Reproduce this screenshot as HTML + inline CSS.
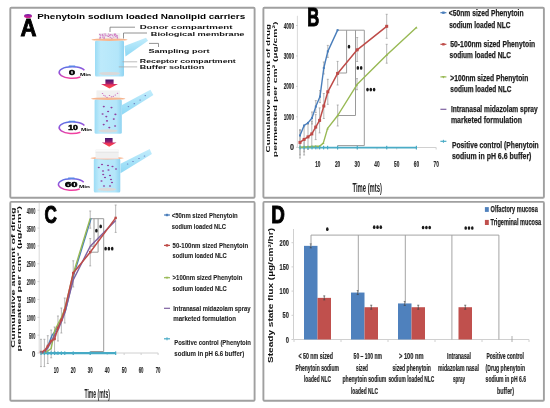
<!DOCTYPE html>
<html><head><meta charset="utf-8"><style>
html,body{margin:0;padding:0;background:#fff;width:550px;height:408px;overflow:hidden}
svg{display:block;filter:blur(0.35px);font-family:"Liberation Sans",sans-serif}
</style></head><body>
<svg width="550" height="408" viewBox="0 0 550 408">
<defs>
<linearGradient id="gEl" x1="0" y1="0" x2="0" y2="1"><stop offset="0" stop-color="#6a1fa8"/><stop offset="1" stop-color="#e5208f"/></linearGradient>
<linearGradient id="gArr" x1="0" y1="0" x2="0" y2="1"><stop offset="0" stop-color="#3a1870"/><stop offset="0.45" stop-color="#9a1f70"/><stop offset="0.6" stop-color="#e8305a"/><stop offset="1" stop-color="#ff5048"/></linearGradient>
<linearGradient id="gTim" x1="0" y1="0" x2="0.3" y2="1"><stop offset="0" stop-color="#4f7ae8"/><stop offset="0.5" stop-color="#9a50d8"/><stop offset="1" stop-color="#f040a0"/></linearGradient>
<linearGradient id="gCyl" x1="0" y1="0" x2="1" y2="0"><stop offset="0" stop-color="#9cdcf5"/><stop offset="0.2" stop-color="#bdeafb"/><stop offset="0.8" stop-color="#b3e6fa"/><stop offset="1" stop-color="#8fd3f1"/></linearGradient>
<linearGradient id="gArm" x1="0" y1="0" x2="0" y2="1"><stop offset="0" stop-color="#c0ecfc"/><stop offset="1" stop-color="#88d6f4"/></linearGradient>
</defs>
<rect width="550" height="408" fill="#fff"/>

<rect x="10.3" y="7.8" width="244.29999999999998" height="189.89999999999998" rx="1" fill="none" stroke="#a0a0a0" stroke-width="1.9"/>
<rect x="263.4" y="7.8" width="280.5" height="189.89999999999998" rx="1" fill="none" stroke="#a0a0a0" stroke-width="1.9"/>
<rect x="10.3" y="201.9" width="244.29999999999998" height="198.79999999999998" rx="1" fill="none" stroke="#a0a0a0" stroke-width="1.9"/>
<rect x="263.4" y="201.9" width="280.5" height="198.79999999999998" rx="1" fill="none" stroke="#a0a0a0" stroke-width="1.9"/>
<ellipse cx="28" cy="16" rx="4" ry="2" fill="url(#gEl)"/>
<text x="20.6" y="35.6" font-size="24" font-weight="bold" fill="#000" text-anchor="start" textLength="16.0" lengthAdjust="spacingAndGlyphs" stroke="#000" stroke-width="0.9">A</text>
<text x="37.2" y="18.7" font-size="8" font-weight="bold" fill="#000" text-anchor="start" textLength="208" lengthAdjust="spacingAndGlyphs" >Phenytoin sodium loaded Nanolipid carriers</text>
<polygon points="124.5,46 146,37.8 148,40.8 125.5,56.5" fill="url(#gArm)" opacity="0.95"/>
<rect x="95" y="40.4" width="29" height="36.1" fill="url(#gCyl)" rx="1.5"/>
<ellipse cx="109.5" cy="73.5" rx="10.5" ry="1.6" fill="#d9d9d9"/>
<rect x="98.75" y="33.1" width="21.5" height="6.100000000000001" fill="#f1f1f1"/>
<ellipse cx="109.5" cy="39.7" rx="18.0" ry="1.3" fill="#f7b58f"/>
<ellipse cx="99.88" cy="34.42" rx="0.75" ry="0.55" fill="#c04ab0" opacity="0.8"/>
<ellipse cx="102.29" cy="34.19" rx="0.75" ry="0.55" fill="#c04ab0" opacity="0.8"/>
<ellipse cx="104.21" cy="33.93" rx="0.75" ry="0.55" fill="#c04ab0" opacity="0.8"/>
<ellipse cx="105.63" cy="33.97" rx="0.75" ry="0.55" fill="#c04ab0" opacity="0.8"/>
<ellipse cx="108.49" cy="34.0" rx="0.75" ry="0.55" fill="#c04ab0" opacity="0.8"/>
<ellipse cx="110.2" cy="34.66" rx="0.75" ry="0.55" fill="#c04ab0" opacity="0.8"/>
<ellipse cx="111.88" cy="34.68" rx="0.75" ry="0.55" fill="#c04ab0" opacity="0.8"/>
<ellipse cx="114.38" cy="34.13" rx="0.75" ry="0.55" fill="#c04ab0" opacity="0.8"/>
<ellipse cx="115.44" cy="34.15" rx="0.75" ry="0.55" fill="#c04ab0" opacity="0.8"/>
<ellipse cx="100.4" cy="35.71" rx="0.75" ry="0.55" fill="#c04ab0" opacity="0.8"/>
<ellipse cx="102.31" cy="35.25" rx="0.75" ry="0.55" fill="#c04ab0" opacity="0.8"/>
<ellipse cx="103.85" cy="35.74" rx="0.75" ry="0.55" fill="#c04ab0" opacity="0.8"/>
<ellipse cx="105.93" cy="35.67" rx="0.75" ry="0.55" fill="#c04ab0" opacity="0.8"/>
<ellipse cx="107.86" cy="35.84" rx="0.75" ry="0.55" fill="#c04ab0" opacity="0.8"/>
<ellipse cx="109.74" cy="35.66" rx="0.75" ry="0.55" fill="#c04ab0" opacity="0.8"/>
<ellipse cx="112.45" cy="35.78" rx="0.75" ry="0.55" fill="#c04ab0" opacity="0.8"/>
<ellipse cx="114.53" cy="35.29" rx="0.75" ry="0.55" fill="#c04ab0" opacity="0.8"/>
<ellipse cx="116.21" cy="35.32" rx="0.75" ry="0.55" fill="#c04ab0" opacity="0.8"/>
<ellipse cx="117.3" cy="35.73" rx="0.75" ry="0.55" fill="#c04ab0" opacity="0.8"/>
<ellipse cx="100.39" cy="37.2" rx="0.75" ry="0.55" fill="#c04ab0" opacity="0.8"/>
<ellipse cx="102.48" cy="36.98" rx="0.75" ry="0.55" fill="#c04ab0" opacity="0.8"/>
<ellipse cx="104.15" cy="37.17" rx="0.75" ry="0.55" fill="#c04ab0" opacity="0.8"/>
<ellipse cx="108.3" cy="36.55" rx="0.75" ry="0.55" fill="#c04ab0" opacity="0.8"/>
<ellipse cx="110.23" cy="37.29" rx="0.75" ry="0.55" fill="#c04ab0" opacity="0.8"/>
<ellipse cx="113.81" cy="37.03" rx="0.75" ry="0.55" fill="#c04ab0" opacity="0.8"/>
<ellipse cx="115.85" cy="36.63" rx="0.75" ry="0.55" fill="#c04ab0" opacity="0.8"/>
<ellipse cx="117.32" cy="37.11" rx="0.75" ry="0.55" fill="#c04ab0" opacity="0.8"/>
<ellipse cx="100.0" cy="38.11" rx="0.75" ry="0.55" fill="#c04ab0" opacity="0.8"/>
<ellipse cx="104.14" cy="38.24" rx="0.75" ry="0.55" fill="#c04ab0" opacity="0.8"/>
<ellipse cx="111.9" cy="38.09" rx="0.75" ry="0.55" fill="#c04ab0" opacity="0.8"/>
<ellipse cx="117.46" cy="37.99" rx="0.75" ry="0.55" fill="#c04ab0" opacity="0.8"/>
<polygon points="122,105 150.4,89.7 153.4,94.9 122,114.7" fill="url(#gArm)" opacity="0.95"/>
<rect x="94.6" y="99.3" width="27.2" height="34.500000000000014" fill="url(#gCyl)" rx="1.5"/>
<ellipse cx="108.19999999999999" cy="130.8" rx="9.6" ry="1.6" fill="#d9d9d9"/>
<rect x="96.44999999999999" y="90.4" width="23.5" height="7.799999999999997" fill="#f1f1f1"/>
<ellipse cx="108.19999999999999" cy="98.7" rx="17.1" ry="1.3" fill="#f7b58f"/>
<ellipse cx="103.8" cy="106.6" rx="1.1" ry="0.8" fill="#8f3fa0"/>
<ellipse cx="111.5" cy="107.6" rx="1.1" ry="0.8" fill="#8f3fa0"/>
<ellipse cx="108.1" cy="111.5" rx="1.1" ry="0.8" fill="#8f3fa0"/>
<ellipse cx="102.6" cy="114" rx="1.1" ry="0.8" fill="#8f3fa0"/>
<ellipse cx="115.4" cy="114.4" rx="1.1" ry="0.8" fill="#8f3fa0"/>
<ellipse cx="106.3" cy="116.6" rx="1.1" ry="0.8" fill="#8f3fa0"/>
<ellipse cx="113.8" cy="119.1" rx="1.1" ry="0.8" fill="#8f3fa0"/>
<ellipse cx="107" cy="120.9" rx="1.1" ry="0.8" fill="#8f3fa0"/>
<ellipse cx="103.7" cy="124.6" rx="1.1" ry="0.8" fill="#8f3fa0"/>
<ellipse cx="115.1" cy="126" rx="1.1" ry="0.8" fill="#8f3fa0"/>
<ellipse cx="109.3" cy="127.6" rx="1.1" ry="0.8" fill="#8f3fa0"/>
<ellipse cx="102.5" cy="93.5" rx="0.75" ry="0.55" fill="#c04ab0" opacity="0.8"/>
<ellipse cx="105.3" cy="96" rx="0.75" ry="0.55" fill="#c04ab0" opacity="0.8"/>
<ellipse cx="107" cy="97.2" rx="0.75" ry="0.55" fill="#c04ab0" opacity="0.8"/>
<ellipse cx="109.5" cy="95.5" rx="0.75" ry="0.55" fill="#c04ab0" opacity="0.8"/>
<ellipse cx="111.5" cy="96.8" rx="0.75" ry="0.55" fill="#c04ab0" opacity="0.8"/>
<ellipse cx="113.3" cy="96.3" rx="0.75" ry="0.55" fill="#c04ab0" opacity="0.8"/>
<ellipse cx="115.3" cy="95" rx="0.75" ry="0.55" fill="#c04ab0" opacity="0.8"/>
<ellipse cx="117.5" cy="93.2" rx="0.75" ry="0.55" fill="#c04ab0" opacity="0.8"/>
<ellipse cx="103.8" cy="95.2" rx="0.75" ry="0.55" fill="#c04ab0" opacity="0.8"/>
<ellipse cx="128.4" cy="106.6" rx="0.8" ry="0.6" fill="#6a7fc0"/>
<ellipse cx="134.3" cy="103.7" rx="0.8" ry="0.6" fill="#6a7fc0"/>
<ellipse cx="140.1" cy="100" rx="0.8" ry="0.6" fill="#6a7fc0"/>
<ellipse cx="145.3" cy="95.6" rx="0.8" ry="0.6" fill="#6a7fc0"/>
<polygon points="120.5,163.7 149.7,149 151.9,154.1 120.5,173.2" fill="url(#gArm)" opacity="0.95"/>
<rect x="93.8" y="158.5" width="26.5" height="33.900000000000006" fill="url(#gCyl)" rx="1.5"/>
<ellipse cx="107.05" cy="189.4" rx="9.25" ry="1.6" fill="#d9d9d9"/>
<rect x="95.64999999999999" y="149.7" width="22.8" height="7.900000000000006" fill="#f1f1f1"/>
<ellipse cx="107.05" cy="158.1" rx="16.75" ry="1.3" fill="#f7b58f"/>
<rect x="95.64999999999999" y="149.7" width="22.8" height="9.100000000000005" fill="#f0f0f0"/>
<rect x="95.64999999999999" y="149.89999999999998" width="22.8" height="1.4" fill="#fafafa"/>
<rect x="95.64999999999999" y="152.29999999999998" width="22.8" height="0.6" fill="#e2e2e2"/>
<rect x="95.64999999999999" y="158.0" width="22.8" height="0.9" fill="#f7d8d0"/>
<ellipse cx="98.8" cy="167.5" rx="1.1" ry="0.8" fill="#8f3fa0"/>
<ellipse cx="102" cy="164.5" rx="1.1" ry="0.8" fill="#8f3fa0"/>
<ellipse cx="108" cy="165.5" rx="1.1" ry="0.8" fill="#8f3fa0"/>
<ellipse cx="112.5" cy="166.5" rx="1.1" ry="0.8" fill="#8f3fa0"/>
<ellipse cx="116" cy="169" rx="1.1" ry="0.8" fill="#8f3fa0"/>
<ellipse cx="103" cy="171" rx="1.1" ry="0.8" fill="#8f3fa0"/>
<ellipse cx="108.5" cy="170" rx="1.1" ry="0.8" fill="#8f3fa0"/>
<ellipse cx="110" cy="175.5" rx="1.1" ry="0.8" fill="#8f3fa0"/>
<ellipse cx="103.2" cy="174.5" rx="1.1" ry="0.8" fill="#8f3fa0"/>
<ellipse cx="105" cy="177.5" rx="1.1" ry="0.8" fill="#8f3fa0"/>
<ellipse cx="111" cy="179.5" rx="1.1" ry="0.8" fill="#8f3fa0"/>
<ellipse cx="101.5" cy="181" rx="1.1" ry="0.8" fill="#8f3fa0"/>
<ellipse cx="112" cy="182.5" rx="1.1" ry="0.8" fill="#8f3fa0"/>
<ellipse cx="104" cy="186" rx="1.1" ry="0.8" fill="#8f3fa0"/>
<ellipse cx="110" cy="186" rx="1.1" ry="0.8" fill="#8f3fa0"/>
<ellipse cx="127.6" cy="164" rx="0.8" ry="0.6" fill="#6a7fc0"/>
<ellipse cx="133" cy="161.5" rx="0.8" ry="0.6" fill="#6a7fc0"/>
<ellipse cx="139" cy="158.5" rx="0.8" ry="0.6" fill="#6a7fc0"/>
<ellipse cx="144.5" cy="156" rx="0.8" ry="0.6" fill="#6a7fc0"/>
<path d="M105.4,79.4 H113.6 V84.08000000000001 H118 L109.5,88.4 L101,84.08000000000001 H105.4 Z" fill="url(#gArr)"/>
<path d="M105,138 H112.6 V142.576 H116.5 L109.2,146.8 L101.9,142.576 H105 Z" fill="url(#gArr)"/>
<line x1="110" y1="27.2" x2="135" y2="27.2" stroke="#777" stroke-width="0.8"/>
<line x1="110" y1="27.2" x2="110" y2="32" stroke="#777" stroke-width="0.8"/>
<line x1="123.5" y1="33" x2="147" y2="33" stroke="#777" stroke-width="0.8"/>
<line x1="123.5" y1="33" x2="123.5" y2="38.5" stroke="#777" stroke-width="0.8"/>
<line x1="149" y1="43.4" x2="158.5" y2="43.4" stroke="#777" stroke-width="0.8"/>
<line x1="158.5" y1="43.4" x2="158.5" y2="47" stroke="#777" stroke-width="0.8"/>
<line x1="122.5" y1="61.8" x2="137.2" y2="61.8" stroke="#aaa" stroke-width="0.8"/>
<line x1="118.8" y1="66.9" x2="137.2" y2="66.9" stroke="#aaa" stroke-width="0.8"/>
<text x="139.8" y="29.3" font-size="5.7" font-weight="bold" fill="#111" text-anchor="start" textLength="92.7" lengthAdjust="spacingAndGlyphs" >Donor compartment</text>
<text x="150.7" y="36.3" font-size="5.7" font-weight="bold" fill="#111" text-anchor="start" textLength="93.8" lengthAdjust="spacingAndGlyphs" >Biological membrane</text>
<text x="148.5" y="52.7" font-size="5.7" font-weight="bold" fill="#111" text-anchor="start" textLength="61.1" lengthAdjust="spacingAndGlyphs" >Sampling port</text>
<text x="139.8" y="63.3" font-size="5.7" font-weight="bold" fill="#111" text-anchor="start" textLength="96" lengthAdjust="spacingAndGlyphs" >Receptor compartment</text>
<text x="139.8" y="69.2" font-size="5.7" font-weight="bold" fill="#111" text-anchor="start" textLength="64.4" lengthAdjust="spacingAndGlyphs" >Buffer solution</text>
<path d="M84.4,70.3 A13.1,5.8 0 1 0 80.4,77.0" fill="none" stroke="url(#gTim)" stroke-width="1.5"/>
<rect x="68.6" y="65.5" width="6.8" height="1.6" rx="0.6" fill="#5a86e8"/>
<text x="69" y="75.1" font-size="6.5" font-weight="bold" fill="#000" text-anchor="start" textLength="6" lengthAdjust="spacingAndGlyphs" stroke="#000" stroke-width="0.5">0</text>
<text x="80" y="75.6" font-size="3.6" font-weight="bold" fill="#000" text-anchor="start" textLength="11" lengthAdjust="spacingAndGlyphs" >Min</text>
<path d="M84.4,125.5 A13.1,5.8 0 1 0 80.4,132.2" fill="none" stroke="url(#gTim)" stroke-width="1.5"/>
<rect x="68.6" y="120.7" width="6.8" height="1.6" rx="0.6" fill="#5a86e8"/>
<text x="68.2" y="130.3" font-size="6.5" font-weight="bold" fill="#000" text-anchor="start" textLength="9.5" lengthAdjust="spacingAndGlyphs" stroke="#000" stroke-width="0.5">10</text>
<text x="81" y="130.6" font-size="3.6" font-weight="bold" fill="#000" text-anchor="start" textLength="11" lengthAdjust="spacingAndGlyphs" >Min</text>
<path d="M83.7,182.3 A13.1,5.8 0 1 0 79.7,189.0" fill="none" stroke="url(#gTim)" stroke-width="1.5"/>
<rect x="67.89999999999999" y="177.5" width="6.8" height="1.6" rx="0.6" fill="#5a86e8"/>
<text x="65" y="187.1" font-size="6.5" font-weight="bold" fill="#000" text-anchor="start" textLength="12.299999999999997" lengthAdjust="spacingAndGlyphs" stroke="#000" stroke-width="0.5">60</text>
<text x="79" y="187.5" font-size="3.6" font-weight="bold" fill="#000" text-anchor="start" textLength="11" lengthAdjust="spacingAndGlyphs" >Min</text>
<text x="307.2" y="26.2" font-size="25" font-weight="bold" fill="#000" text-anchor="start" textLength="12.0" lengthAdjust="spacingAndGlyphs" stroke="#000" stroke-width="1">B</text>
<line x1="297.4" y1="15.8" x2="297.4" y2="147.5" stroke="#d9d9d9" stroke-width="1"/>
<line x1="298" y1="147.5" x2="436.2" y2="147.5" stroke="#d0d0d0" stroke-width="1"/>
<line x1="296" y1="147.3" x2="298" y2="147.3" stroke="#d0d0d0" stroke-width="1"/>
<text x="294" y="147.3" font-size="8.9" font-weight="bold" fill="#2a2a2a" text-anchor="end" dominant-baseline="central" textLength="4" lengthAdjust="spacingAndGlyphs" stroke="#2a2a2a" stroke-width="0.2">0</text>
<line x1="296" y1="116.85000000000001" x2="298" y2="116.85000000000001" stroke="#d0d0d0" stroke-width="1"/>
<text x="294" y="116.85000000000001" font-size="8.9" font-weight="bold" fill="#2a2a2a" text-anchor="end" dominant-baseline="central" textLength="10.3" lengthAdjust="spacingAndGlyphs" stroke="#2a2a2a" stroke-width="0.2">1000</text>
<line x1="296" y1="86.4" x2="298" y2="86.4" stroke="#d0d0d0" stroke-width="1"/>
<text x="294" y="86.4" font-size="8.9" font-weight="bold" fill="#2a2a2a" text-anchor="end" dominant-baseline="central" textLength="10.3" lengthAdjust="spacingAndGlyphs" stroke="#2a2a2a" stroke-width="0.2">2000</text>
<line x1="296" y1="55.95" x2="298" y2="55.95" stroke="#d0d0d0" stroke-width="1"/>
<text x="294" y="55.95" font-size="8.9" font-weight="bold" fill="#2a2a2a" text-anchor="end" dominant-baseline="central" textLength="10.3" lengthAdjust="spacingAndGlyphs" stroke="#2a2a2a" stroke-width="0.2">3000</text>
<line x1="296" y1="25.5" x2="298" y2="25.5" stroke="#d0d0d0" stroke-width="1"/>
<text x="294" y="25.5" font-size="8.9" font-weight="bold" fill="#2a2a2a" text-anchor="end" dominant-baseline="central" textLength="10.3" lengthAdjust="spacingAndGlyphs" stroke="#2a2a2a" stroke-width="0.2">4000</text>
<line x1="317.82000000000005" y1="147.5" x2="317.82000000000005" y2="149.5" stroke="#d0d0d0" stroke-width="1"/>
<text x="317.82000000000005" y="163.8" font-size="9.5" font-weight="bold" fill="#2a2a2a" text-anchor="middle" dominant-baseline="central" textLength="5.3" lengthAdjust="spacingAndGlyphs" stroke="#2a2a2a" stroke-width="0.2">10</text>
<line x1="337.54" y1="147.5" x2="337.54" y2="149.5" stroke="#d0d0d0" stroke-width="1"/>
<text x="337.54" y="163.8" font-size="9.5" font-weight="bold" fill="#2a2a2a" text-anchor="middle" dominant-baseline="central" textLength="5.3" lengthAdjust="spacingAndGlyphs" stroke="#2a2a2a" stroke-width="0.2">20</text>
<line x1="357.26" y1="147.5" x2="357.26" y2="149.5" stroke="#d0d0d0" stroke-width="1"/>
<text x="357.26" y="163.8" font-size="9.5" font-weight="bold" fill="#2a2a2a" text-anchor="middle" dominant-baseline="central" textLength="5.3" lengthAdjust="spacingAndGlyphs" stroke="#2a2a2a" stroke-width="0.2">30</text>
<line x1="376.98" y1="147.5" x2="376.98" y2="149.5" stroke="#d0d0d0" stroke-width="1"/>
<text x="376.98" y="163.8" font-size="9.5" font-weight="bold" fill="#2a2a2a" text-anchor="middle" dominant-baseline="central" textLength="5.3" lengthAdjust="spacingAndGlyphs" stroke="#2a2a2a" stroke-width="0.2">40</text>
<line x1="396.70000000000005" y1="147.5" x2="396.70000000000005" y2="149.5" stroke="#d0d0d0" stroke-width="1"/>
<text x="396.70000000000005" y="163.8" font-size="9.5" font-weight="bold" fill="#2a2a2a" text-anchor="middle" dominant-baseline="central" textLength="5.3" lengthAdjust="spacingAndGlyphs" stroke="#2a2a2a" stroke-width="0.2">50</text>
<line x1="416.42" y1="147.5" x2="416.42" y2="149.5" stroke="#d0d0d0" stroke-width="1"/>
<text x="416.42" y="163.8" font-size="9.5" font-weight="bold" fill="#2a2a2a" text-anchor="middle" dominant-baseline="central" textLength="5.3" lengthAdjust="spacingAndGlyphs" stroke="#2a2a2a" stroke-width="0.2">60</text>
<line x1="436.14" y1="147.5" x2="436.14" y2="149.5" stroke="#d0d0d0" stroke-width="1"/>
<text x="436.14" y="163.8" font-size="9.5" font-weight="bold" fill="#2a2a2a" text-anchor="middle" dominant-baseline="central" textLength="5.3" lengthAdjust="spacingAndGlyphs" stroke="#2a2a2a" stroke-width="0.2">70</text>
<text x="367.2" y="187.6" font-size="12" font-weight="bold" fill="#222" text-anchor="middle" dominant-baseline="central" textLength="29.5" lengthAdjust="spacingAndGlyphs" >Time (mts)</text>
<text transform="translate(267.3,88.2) rotate(-90)" x="0" y="0" font-size="6.1" font-weight="bold" fill="#111" text-anchor="middle" dominant-baseline="central" textLength="128.5" lengthAdjust="spacingAndGlyphs" >Cumulative amount of drug</text>
<text transform="translate(274.7,89.4) rotate(-90)" x="0" y="0" font-size="6.1" font-weight="bold" fill="#111" text-anchor="middle" dominant-baseline="central" textLength="135.5" lengthAdjust="spacingAndGlyphs" >permeated per cm² (µg/cm²)</text>
<line x1="337.6" y1="30.2" x2="364.3" y2="30.2" stroke="#9a9a9a" stroke-width="1"/>
<line x1="346.6" y1="30.2" x2="346.6" y2="73" stroke="#9a9a9a" stroke-width="1"/>
<line x1="337.6" y1="73" x2="346.6" y2="73" stroke="#9a9a9a" stroke-width="1"/>
<line x1="355.5" y1="30.2" x2="355.5" y2="115.5" stroke="#9a9a9a" stroke-width="1"/>
<line x1="337.7" y1="115.5" x2="355.5" y2="115.5" stroke="#9a9a9a" stroke-width="1"/>
<line x1="364.3" y1="30.2" x2="364.3" y2="145.6" stroke="#9a9a9a" stroke-width="1"/>
<line x1="337.4" y1="145.6" x2="364.3" y2="145.6" stroke="#9a9a9a" stroke-width="1"/>
<ellipse cx="349.00" cy="46.7" rx="1.3" ry="1.85" fill="#1a1a1a"/>
<ellipse cx="357.85" cy="67.9" rx="1.3" ry="1.85" fill="#1a1a1a"/>
<ellipse cx="361.15" cy="67.9" rx="1.3" ry="1.85" fill="#1a1a1a"/>
<ellipse cx="367.50" cy="89.6" rx="1.3" ry="1.85" fill="#1a1a1a"/>
<ellipse cx="370.80" cy="89.6" rx="1.3" ry="1.85" fill="#1a1a1a"/>
<ellipse cx="374.10" cy="89.6" rx="1.3" ry="1.85" fill="#1a1a1a"/>
<line x1="300" y1="129.9" x2="300" y2="154.9" stroke="#9a9a9a" stroke-width="0.7"/>
<line x1="299" y1="129.9" x2="301" y2="129.9" stroke="#9a9a9a" stroke-width="0.7"/>
<line x1="299" y1="154.9" x2="301" y2="154.9" stroke="#9a9a9a" stroke-width="0.7"/>
<line x1="304.1" y1="126.9" x2="304.1" y2="151.9" stroke="#9a9a9a" stroke-width="0.7"/>
<line x1="303.1" y1="126.9" x2="305.1" y2="126.9" stroke="#9a9a9a" stroke-width="0.7"/>
<line x1="303.1" y1="151.9" x2="305.1" y2="151.9" stroke="#9a9a9a" stroke-width="0.7"/>
<line x1="308" y1="124.4" x2="308" y2="149.4" stroke="#9a9a9a" stroke-width="0.7"/>
<line x1="307" y1="124.4" x2="309" y2="124.4" stroke="#9a9a9a" stroke-width="0.7"/>
<line x1="307" y1="149.4" x2="309" y2="149.4" stroke="#9a9a9a" stroke-width="0.7"/>
<line x1="311.8" y1="121.4" x2="311.8" y2="146.4" stroke="#9a9a9a" stroke-width="0.7"/>
<line x1="310.8" y1="121.4" x2="312.8" y2="121.4" stroke="#9a9a9a" stroke-width="0.7"/>
<line x1="310.8" y1="146.4" x2="312.8" y2="146.4" stroke="#9a9a9a" stroke-width="0.7"/>
<line x1="315.7" y1="114.6" x2="315.7" y2="139.6" stroke="#9a9a9a" stroke-width="0.7"/>
<line x1="314.7" y1="114.6" x2="316.7" y2="114.6" stroke="#9a9a9a" stroke-width="0.7"/>
<line x1="314.7" y1="139.6" x2="316.7" y2="139.6" stroke="#9a9a9a" stroke-width="0.7"/>
<line x1="319.6" y1="107.9" x2="319.6" y2="132.9" stroke="#9a9a9a" stroke-width="0.7"/>
<line x1="318.6" y1="107.9" x2="320.6" y2="107.9" stroke="#9a9a9a" stroke-width="0.7"/>
<line x1="318.6" y1="132.9" x2="320.6" y2="132.9" stroke="#9a9a9a" stroke-width="0.7"/>
<line x1="323.8" y1="93.5" x2="323.8" y2="118.5" stroke="#9a9a9a" stroke-width="0.7"/>
<line x1="322.8" y1="93.5" x2="324.8" y2="93.5" stroke="#9a9a9a" stroke-width="0.7"/>
<line x1="322.8" y1="118.5" x2="324.8" y2="118.5" stroke="#9a9a9a" stroke-width="0.7"/>
<line x1="327.8" y1="79.3" x2="327.8" y2="104.3" stroke="#9a9a9a" stroke-width="0.7"/>
<line x1="326.8" y1="79.3" x2="328.8" y2="79.3" stroke="#9a9a9a" stroke-width="0.7"/>
<line x1="326.8" y1="104.3" x2="328.8" y2="104.3" stroke="#9a9a9a" stroke-width="0.7"/>
<line x1="312" y1="112" x2="312" y2="124" stroke="#9a9a9a" stroke-width="0.7"/>
<line x1="311" y1="112" x2="313" y2="112" stroke="#9a9a9a" stroke-width="0.7"/>
<line x1="311" y1="124" x2="313" y2="124" stroke="#9a9a9a" stroke-width="0.7"/>
<line x1="315.8" y1="100.6" x2="315.8" y2="112.6" stroke="#9a9a9a" stroke-width="0.7"/>
<line x1="314.8" y1="100.6" x2="316.8" y2="100.6" stroke="#9a9a9a" stroke-width="0.7"/>
<line x1="314.8" y1="112.6" x2="316.8" y2="112.6" stroke="#9a9a9a" stroke-width="0.7"/>
<line x1="320" y1="90.6" x2="320" y2="102.6" stroke="#9a9a9a" stroke-width="0.7"/>
<line x1="319" y1="90.6" x2="321" y2="90.6" stroke="#9a9a9a" stroke-width="0.7"/>
<line x1="319" y1="102.6" x2="321" y2="102.6" stroke="#9a9a9a" stroke-width="0.7"/>
<line x1="323.8" y1="62" x2="323.8" y2="74" stroke="#9a9a9a" stroke-width="0.7"/>
<line x1="322.8" y1="62" x2="324.8" y2="62" stroke="#9a9a9a" stroke-width="0.7"/>
<line x1="322.8" y1="74" x2="324.8" y2="74" stroke="#9a9a9a" stroke-width="0.7"/>
<line x1="327.8" y1="45.4" x2="327.8" y2="57.4" stroke="#9a9a9a" stroke-width="0.7"/>
<line x1="326.8" y1="45.4" x2="328.8" y2="45.4" stroke="#9a9a9a" stroke-width="0.7"/>
<line x1="326.8" y1="57.4" x2="328.8" y2="57.4" stroke="#9a9a9a" stroke-width="0.7"/>
<line x1="386.7" y1="14.3" x2="386.7" y2="38.3" stroke="#9a9a9a" stroke-width="0.7"/>
<line x1="385.7" y1="14.3" x2="387.7" y2="14.3" stroke="#9a9a9a" stroke-width="0.7"/>
<line x1="385.7" y1="38.3" x2="387.7" y2="38.3" stroke="#9a9a9a" stroke-width="0.7"/>
<line x1="357.2" y1="37.5" x2="357.2" y2="61.5" stroke="#9a9a9a" stroke-width="0.7"/>
<line x1="356.2" y1="37.5" x2="358.2" y2="37.5" stroke="#9a9a9a" stroke-width="0.7"/>
<line x1="356.2" y1="61.5" x2="358.2" y2="61.5" stroke="#9a9a9a" stroke-width="0.7"/>
<line x1="337.6" y1="61.4" x2="337.6" y2="85" stroke="#9a9a9a" stroke-width="0.7"/>
<line x1="336.6" y1="61.4" x2="338.6" y2="61.4" stroke="#9a9a9a" stroke-width="0.7"/>
<line x1="336.6" y1="85" x2="338.6" y2="85" stroke="#9a9a9a" stroke-width="0.7"/>
<line x1="386.7" y1="44.3" x2="386.7" y2="63.2" stroke="#9a9a9a" stroke-width="0.7"/>
<line x1="385.7" y1="44.3" x2="387.7" y2="44.3" stroke="#9a9a9a" stroke-width="0.7"/>
<line x1="385.7" y1="63.2" x2="387.7" y2="63.2" stroke="#9a9a9a" stroke-width="0.7"/>
<line x1="357" y1="78.6" x2="357" y2="89.7" stroke="#9a9a9a" stroke-width="0.7"/>
<line x1="356" y1="78.6" x2="358" y2="78.6" stroke="#9a9a9a" stroke-width="0.7"/>
<line x1="356" y1="89.7" x2="358" y2="89.7" stroke="#9a9a9a" stroke-width="0.7"/>
<line x1="337.7" y1="105" x2="337.7" y2="126" stroke="#9a9a9a" stroke-width="0.7"/>
<line x1="336.7" y1="105" x2="338.7" y2="105" stroke="#9a9a9a" stroke-width="0.7"/>
<line x1="336.7" y1="126" x2="338.7" y2="126" stroke="#9a9a9a" stroke-width="0.7"/>
<line x1="300" y1="130" x2="300" y2="158" stroke="#9a9a9a" stroke-width="0.7"/>
<line x1="299" y1="130" x2="301" y2="130" stroke="#9a9a9a" stroke-width="0.7"/>
<line x1="299" y1="158" x2="301" y2="158" stroke="#9a9a9a" stroke-width="0.7"/>
<line x1="304.1" y1="140" x2="304.1" y2="155" stroke="#9a9a9a" stroke-width="0.7"/>
<line x1="303.1" y1="140" x2="305.1" y2="140" stroke="#9a9a9a" stroke-width="0.7"/>
<line x1="303.1" y1="155" x2="305.1" y2="155" stroke="#9a9a9a" stroke-width="0.7"/>
<polyline points="300,147.6 304.1,147.6 308,147.6 312,147.6 315.8,147.6 319.6,147.6 323.6,147.6 327.6,147.6 337.6,147.6 357.3,147.6 386.7,147.6 416.4,147.6" fill="none" stroke="#4bacc6" stroke-width="1.9" stroke-linejoin="round"/>
<polyline points="300,147.3 304.1,147 308,146.7 312,146.5 315.7,146.3 319.6,146.3 323.3,143.1 327.6,128.4 337.7,115.5 357,84.6 386.7,55 416.4,27.5" fill="none" stroke="#98b954" stroke-width="1.4" stroke-linejoin="round"/>
<polyline points="300,142.4 304.1,139.4 308,136.9 311.8,133.9 315.7,127.1 319.6,120.4 323.8,106 327.8,91.8 337.6,73.4 357.2,49.8 386.7,26.3" fill="none" stroke="#be4b48" stroke-width="1.5" stroke-linejoin="round"/>
<polyline points="300,135.5 304.1,125.5 308,122.9 312,118 315.8,106.6 320,96.6 323.8,68 327.8,51.4 337.6,30.1" fill="none" stroke="#4a7ebb" stroke-width="1.4" stroke-linejoin="round"/>
<rect x="298.5" y="140.9" width="3" height="3" fill="#be4b48"/>
<rect x="302.6" y="137.9" width="3" height="3" fill="#be4b48"/>
<rect x="306.5" y="135.4" width="3" height="3" fill="#be4b48"/>
<rect x="310.3" y="132.4" width="3" height="3" fill="#be4b48"/>
<rect x="314.2" y="125.6" width="3" height="3" fill="#be4b48"/>
<rect x="318.1" y="118.9" width="3" height="3" fill="#be4b48"/>
<rect x="322.3" y="104.5" width="3" height="3" fill="#be4b48"/>
<rect x="326.3" y="90.3" width="3" height="3" fill="#be4b48"/>
<rect x="336.1" y="71.9" width="3" height="3" fill="#be4b48"/>
<rect x="355.7" y="48.3" width="3" height="3" fill="#be4b48"/>
<rect x="385.2" y="24.8" width="3" height="3" fill="#be4b48"/>
<rect x="299" y="134.5" width="2" height="2" fill="#4a7ebb"/>
<rect x="303.1" y="124.5" width="2" height="2" fill="#4a7ebb"/>
<rect x="307" y="121.9" width="2" height="2" fill="#4a7ebb"/>
<rect x="311" y="117" width="2" height="2" fill="#4a7ebb"/>
<rect x="314.8" y="105.6" width="2" height="2" fill="#4a7ebb"/>
<rect x="319" y="95.6" width="2" height="2" fill="#4a7ebb"/>
<rect x="322.8" y="67" width="2" height="2" fill="#4a7ebb"/>
<rect x="326.8" y="50.4" width="2" height="2" fill="#4a7ebb"/>
<rect x="336.6" y="29.1" width="2" height="2" fill="#4a7ebb"/>
<polygon points="298.8,148.3 301.2,148.3 300,146.10000000000002" fill="#98b954"/>
<polygon points="302.90000000000003,148 305.3,148 304.1,145.8" fill="#98b954"/>
<polygon points="306.8,147.7 309.2,147.7 308,145.5" fill="#98b954"/>
<polygon points="310.8,147.5 313.2,147.5 312,145.3" fill="#98b954"/>
<polygon points="314.5,147.3 316.9,147.3 315.7,145.10000000000002" fill="#98b954"/>
<polygon points="318.40000000000003,147.3 320.8,147.3 319.6,145.10000000000002" fill="#98b954"/>
<polygon points="322.1,144.1 324.5,144.1 323.3,141.9" fill="#98b954"/>
<polygon points="326.40000000000003,129.4 328.8,129.4 327.6,127.2" fill="#98b954"/>
<polygon points="336.5,116.5 338.9,116.5 337.7,114.3" fill="#98b954"/>
<polygon points="355.8,85.6 358.2,85.6 357,83.39999999999999" fill="#98b954"/>
<polygon points="385.5,56 387.9,56 386.7,53.8" fill="#98b954"/>
<polygon points="415.2,28.5 417.59999999999997,28.5 416.4,26.3" fill="#98b954"/>
<rect x="299.4" y="145.79999999999998" width="1.2" height="3.6" fill="#46aac5"/>
<rect x="303.5" y="145.79999999999998" width="1.2" height="3.6" fill="#46aac5"/>
<rect x="307.4" y="145.79999999999998" width="1.2" height="3.6" fill="#46aac5"/>
<rect x="311.4" y="145.79999999999998" width="1.2" height="3.6" fill="#46aac5"/>
<rect x="315.2" y="145.79999999999998" width="1.2" height="3.6" fill="#46aac5"/>
<rect x="319.0" y="145.79999999999998" width="1.2" height="3.6" fill="#46aac5"/>
<rect x="323.0" y="145.79999999999998" width="1.2" height="3.6" fill="#46aac5"/>
<rect x="327.0" y="145.79999999999998" width="1.2" height="3.6" fill="#46aac5"/>
<rect x="337.0" y="145.79999999999998" width="1.2" height="3.6" fill="#46aac5"/>
<rect x="356.7" y="145.79999999999998" width="1.2" height="3.6" fill="#46aac5"/>
<rect x="386.09999999999997" y="145.79999999999998" width="1.2" height="3.6" fill="#46aac5"/>
<rect x="415.79999999999995" y="145.79999999999998" width="1.2" height="3.6" fill="#46aac5"/>
<line x1="440.4" y1="12.7" x2="446.4" y2="12.7" stroke="#4a7ebb" stroke-width="1.2"/>
<rect x="442.2" y="11.5" width="2.4" height="2.4" fill="#4a7ebb"/>
<text x="448.8" y="13.1" font-size="8.3" font-weight="bold" fill="#1e1e1e" text-anchor="start" dominant-baseline="central" textLength="74.7" lengthAdjust="spacingAndGlyphs" stroke="#1e1e1e" stroke-width="0.25">&lt;50nm sized Phenytoin</text>
<text x="449.2" y="24.5" font-size="8.3" font-weight="bold" fill="#1e1e1e" text-anchor="start" dominant-baseline="central" textLength="61.3" lengthAdjust="spacingAndGlyphs" stroke="#1e1e1e" stroke-width="0.25">sodium loaded NLC</text>
<line x1="440.4" y1="44.3" x2="446.4" y2="44.3" stroke="#be4b48" stroke-width="1.2"/>
<rect x="442.2" y="43.099999999999994" width="2.4" height="2.4" fill="#be4b48"/>
<text x="450.3" y="44.0" font-size="8.3" font-weight="bold" fill="#1e1e1e" text-anchor="start" dominant-baseline="central" textLength="84.9" lengthAdjust="spacingAndGlyphs" stroke="#1e1e1e" stroke-width="0.25">50-100nm sized Phenytoin</text>
<text x="449.6" y="54.8" font-size="8.3" font-weight="bold" fill="#1e1e1e" text-anchor="start" dominant-baseline="central" textLength="61.5" lengthAdjust="spacingAndGlyphs" stroke="#1e1e1e" stroke-width="0.25">sodium loaded NLC</text>
<line x1="440.4" y1="76.9" x2="446.4" y2="76.9" stroke="#98b954" stroke-width="1.2"/>
<polygon points="441.9,75.9 444.9,75.9 443.4,78.4" fill="#98b954"/>
<text x="450.3" y="77.6" font-size="8.3" font-weight="bold" fill="#1e1e1e" text-anchor="start" dominant-baseline="central" textLength="78" lengthAdjust="spacingAndGlyphs" stroke="#1e1e1e" stroke-width="0.25">&gt;100nm sized Phenytoin</text>
<text x="450.3" y="89.1" font-size="8.3" font-weight="bold" fill="#1e1e1e" text-anchor="start" dominant-baseline="central" textLength="61.2" lengthAdjust="spacingAndGlyphs" stroke="#1e1e1e" stroke-width="0.25">sodium loaded NLC</text>
<line x1="440.4" y1="109.3" x2="446.4" y2="109.3" stroke="#7d60a0" stroke-width="1.2"/>
<text x="450.9" y="109.0" font-size="8.3" font-weight="bold" fill="#1e1e1e" text-anchor="start" dominant-baseline="central" textLength="86.8" lengthAdjust="spacingAndGlyphs" stroke="#1e1e1e" stroke-width="0.25">Intranasal midazolam spray</text>
<text x="450.9" y="120.0" font-size="8.3" font-weight="bold" fill="#1e1e1e" text-anchor="start" dominant-baseline="central" textLength="71.1" lengthAdjust="spacingAndGlyphs" stroke="#1e1e1e" stroke-width="0.25">marketed formulation</text>
<line x1="440.4" y1="141.3" x2="446.4" y2="141.3" stroke="#46aac5" stroke-width="1.2"/>
<rect x="442.9" y="139.8" width="1" height="3" fill="#46aac5"/>
<text x="452" y="144.9" font-size="8.3" font-weight="bold" fill="#1e1e1e" text-anchor="start" dominant-baseline="central" textLength="86.7" lengthAdjust="spacingAndGlyphs" stroke="#1e1e1e" stroke-width="0.25">Positive control (Phenytoin</text>
<text x="452" y="156.0" font-size="8.3" font-weight="bold" fill="#1e1e1e" text-anchor="start" dominant-baseline="central" textLength="79.4" lengthAdjust="spacingAndGlyphs" stroke="#1e1e1e" stroke-width="0.25">sodium in pH 6.6 buffer)</text>
<text x="44.4" y="223.2" font-size="24.5" font-weight="bold" fill="#000" text-anchor="start" textLength="12.4" lengthAdjust="spacingAndGlyphs" stroke="#000" stroke-width="1">C</text>
<line x1="39.2" y1="203" x2="39.2" y2="353" stroke="#d9d9d9" stroke-width="1"/>
<line x1="39.5" y1="353" x2="158.2" y2="353" stroke="#d0d0d0" stroke-width="1"/>
<line x1="37.5" y1="353.0" x2="39.5" y2="353.0" stroke="#d0d0d0" stroke-width="1"/>
<text x="35.3" y="353.0" font-size="9.8" font-weight="bold" fill="#2a2a2a" text-anchor="end" dominant-baseline="central" textLength="3.3" lengthAdjust="spacingAndGlyphs" stroke="#2a2a2a" stroke-width="0.2">0</text>
<line x1="37.5" y1="335.15" x2="39.5" y2="335.15" stroke="#d0d0d0" stroke-width="1"/>
<text x="35.3" y="335.15" font-size="9.8" font-weight="bold" fill="#2a2a2a" text-anchor="end" dominant-baseline="central" textLength="6.4" lengthAdjust="spacingAndGlyphs" stroke="#2a2a2a" stroke-width="0.2">500</text>
<line x1="37.5" y1="317.3" x2="39.5" y2="317.3" stroke="#d0d0d0" stroke-width="1"/>
<text x="35.3" y="317.3" font-size="9.8" font-weight="bold" fill="#2a2a2a" text-anchor="end" dominant-baseline="central" textLength="8.6" lengthAdjust="spacingAndGlyphs" stroke="#2a2a2a" stroke-width="0.2">1000</text>
<line x1="37.5" y1="299.45" x2="39.5" y2="299.45" stroke="#d0d0d0" stroke-width="1"/>
<text x="35.3" y="299.45" font-size="9.8" font-weight="bold" fill="#2a2a2a" text-anchor="end" dominant-baseline="central" textLength="8.6" lengthAdjust="spacingAndGlyphs" stroke="#2a2a2a" stroke-width="0.2">1500</text>
<line x1="37.5" y1="281.6" x2="39.5" y2="281.6" stroke="#d0d0d0" stroke-width="1"/>
<text x="35.3" y="281.6" font-size="9.8" font-weight="bold" fill="#2a2a2a" text-anchor="end" dominant-baseline="central" textLength="8.6" lengthAdjust="spacingAndGlyphs" stroke="#2a2a2a" stroke-width="0.2">2000</text>
<line x1="37.5" y1="263.75" x2="39.5" y2="263.75" stroke="#d0d0d0" stroke-width="1"/>
<text x="35.3" y="263.75" font-size="9.8" font-weight="bold" fill="#2a2a2a" text-anchor="end" dominant-baseline="central" textLength="8.6" lengthAdjust="spacingAndGlyphs" stroke="#2a2a2a" stroke-width="0.2">2500</text>
<line x1="37.5" y1="245.89999999999998" x2="39.5" y2="245.89999999999998" stroke="#d0d0d0" stroke-width="1"/>
<text x="35.3" y="245.89999999999998" font-size="9.8" font-weight="bold" fill="#2a2a2a" text-anchor="end" dominant-baseline="central" textLength="8.6" lengthAdjust="spacingAndGlyphs" stroke="#2a2a2a" stroke-width="0.2">3000</text>
<line x1="37.5" y1="228.05" x2="39.5" y2="228.05" stroke="#d0d0d0" stroke-width="1"/>
<text x="35.3" y="228.05" font-size="9.8" font-weight="bold" fill="#2a2a2a" text-anchor="end" dominant-baseline="central" textLength="8.6" lengthAdjust="spacingAndGlyphs" stroke="#2a2a2a" stroke-width="0.2">3500</text>
<line x1="37.5" y1="210.2" x2="39.5" y2="210.2" stroke="#d0d0d0" stroke-width="1"/>
<text x="35.3" y="210.2" font-size="9.8" font-weight="bold" fill="#2a2a2a" text-anchor="end" dominant-baseline="central" textLength="8.6" lengthAdjust="spacingAndGlyphs" stroke="#2a2a2a" stroke-width="0.2">4000</text>
<line x1="56.269999999999996" y1="353" x2="56.269999999999996" y2="355" stroke="#d0d0d0" stroke-width="1"/>
<text x="56.269999999999996" y="369.9" font-size="9.5" font-weight="bold" fill="#2a2a2a" text-anchor="middle" dominant-baseline="central" textLength="4.8" lengthAdjust="spacingAndGlyphs" stroke="#2a2a2a" stroke-width="0.2">10</text>
<line x1="73.24" y1="353" x2="73.24" y2="355" stroke="#d0d0d0" stroke-width="1"/>
<text x="73.24" y="369.9" font-size="9.5" font-weight="bold" fill="#2a2a2a" text-anchor="middle" dominant-baseline="central" textLength="4.8" lengthAdjust="spacingAndGlyphs" stroke="#2a2a2a" stroke-width="0.2">20</text>
<line x1="90.21000000000001" y1="353" x2="90.21000000000001" y2="355" stroke="#d0d0d0" stroke-width="1"/>
<text x="90.21000000000001" y="369.9" font-size="9.5" font-weight="bold" fill="#2a2a2a" text-anchor="middle" dominant-baseline="central" textLength="4.8" lengthAdjust="spacingAndGlyphs" stroke="#2a2a2a" stroke-width="0.2">30</text>
<line x1="107.17999999999999" y1="353" x2="107.17999999999999" y2="355" stroke="#d0d0d0" stroke-width="1"/>
<text x="107.17999999999999" y="369.9" font-size="9.5" font-weight="bold" fill="#2a2a2a" text-anchor="middle" dominant-baseline="central" textLength="4.8" lengthAdjust="spacingAndGlyphs" stroke="#2a2a2a" stroke-width="0.2">40</text>
<line x1="124.15" y1="353" x2="124.15" y2="355" stroke="#d0d0d0" stroke-width="1"/>
<text x="124.15" y="369.9" font-size="9.5" font-weight="bold" fill="#2a2a2a" text-anchor="middle" dominant-baseline="central" textLength="4.8" lengthAdjust="spacingAndGlyphs" stroke="#2a2a2a" stroke-width="0.2">50</text>
<line x1="141.12" y1="353" x2="141.12" y2="355" stroke="#d0d0d0" stroke-width="1"/>
<text x="141.12" y="369.9" font-size="9.5" font-weight="bold" fill="#2a2a2a" text-anchor="middle" dominant-baseline="central" textLength="4.8" lengthAdjust="spacingAndGlyphs" stroke="#2a2a2a" stroke-width="0.2">60</text>
<line x1="158.09" y1="353" x2="158.09" y2="355" stroke="#d0d0d0" stroke-width="1"/>
<text x="158.09" y="369.9" font-size="9.5" font-weight="bold" fill="#2a2a2a" text-anchor="middle" dominant-baseline="central" textLength="4.8" lengthAdjust="spacingAndGlyphs" stroke="#2a2a2a" stroke-width="0.2">70</text>
<text x="97.2" y="393.4" font-size="13" font-weight="bold" fill="#222" text-anchor="middle" dominant-baseline="central" textLength="25.6" lengthAdjust="spacingAndGlyphs" >Time (mts)</text>
<text transform="translate(12.9,277.5) rotate(-90)" x="0" y="0" font-size="5.3" font-weight="bold" fill="#111" text-anchor="middle" dominant-baseline="central" textLength="140.5" lengthAdjust="spacingAndGlyphs" >Cumulative amount of drug</text>
<text transform="translate(18.8,278.8) rotate(-90)" x="0" y="0" font-size="5.3" font-weight="bold" fill="#111" text-anchor="middle" dominant-baseline="central" textLength="145.5" lengthAdjust="spacingAndGlyphs" >permeated per cm² (µg/cm²)</text>
<line x1="90.1" y1="218.7" x2="103.7" y2="218.7" stroke="#9a9a9a" stroke-width="1"/>
<line x1="103.7" y1="218.7" x2="103.7" y2="351.5" stroke="#9a9a9a" stroke-width="1"/>
<line x1="90.3" y1="351.5" x2="103.7" y2="351.5" stroke="#9a9a9a" stroke-width="1"/>
<line x1="94" y1="218.7" x2="94" y2="246.2" stroke="#9a9a9a" stroke-width="1"/>
<line x1="90.1" y1="246.2" x2="94" y2="246.2" stroke="#9a9a9a" stroke-width="1"/>
<line x1="98.1" y1="218.7" x2="98.1" y2="252.2" stroke="#9a9a9a" stroke-width="1"/>
<line x1="90.1" y1="252.2" x2="98.1" y2="252.2" stroke="#9a9a9a" stroke-width="1"/>
<ellipse cx="96.40" cy="230.7" rx="1.3" ry="1.85" fill="#1a1a1a"/>
<ellipse cx="100.70" cy="226.4" rx="1.3" ry="1.85" fill="#1a1a1a"/>
<ellipse cx="105.60" cy="248.7" rx="1.3" ry="1.85" fill="#1a1a1a"/>
<ellipse cx="108.90" cy="248.7" rx="1.3" ry="1.85" fill="#1a1a1a"/>
<ellipse cx="112.20" cy="248.7" rx="1.3" ry="1.85" fill="#1a1a1a"/>
<line x1="40.997" y1="339.3" x2="40.997" y2="366.6" stroke="#9a9a9a" stroke-width="0.7"/>
<line x1="39.997" y1="339.3" x2="41.997" y2="339.3" stroke="#9a9a9a" stroke-width="0.7"/>
<line x1="39.997" y1="366.6" x2="41.997" y2="366.6" stroke="#9a9a9a" stroke-width="0.7"/>
<line x1="44.391" y1="339.3" x2="44.391" y2="366.6" stroke="#9a9a9a" stroke-width="0.7"/>
<line x1="43.391" y1="339.3" x2="45.391" y2="339.3" stroke="#9a9a9a" stroke-width="0.7"/>
<line x1="43.391" y1="366.6" x2="45.391" y2="366.6" stroke="#9a9a9a" stroke-width="0.7"/>
<line x1="47.785" y1="335.7" x2="47.785" y2="363.5" stroke="#9a9a9a" stroke-width="0.7"/>
<line x1="46.785" y1="335.7" x2="48.785" y2="335.7" stroke="#9a9a9a" stroke-width="0.7"/>
<line x1="46.785" y1="363.5" x2="48.785" y2="363.5" stroke="#9a9a9a" stroke-width="0.7"/>
<line x1="51.179" y1="330" x2="51.179" y2="357.8" stroke="#9a9a9a" stroke-width="0.7"/>
<line x1="50.179" y1="330" x2="52.179" y2="330" stroke="#9a9a9a" stroke-width="0.7"/>
<line x1="50.179" y1="357.8" x2="52.179" y2="357.8" stroke="#9a9a9a" stroke-width="0.7"/>
<line x1="54.57299999999999" y1="327" x2="54.57299999999999" y2="352" stroke="#9a9a9a" stroke-width="0.7"/>
<line x1="53.57299999999999" y1="327" x2="55.57299999999999" y2="327" stroke="#9a9a9a" stroke-width="0.7"/>
<line x1="53.57299999999999" y1="352" x2="55.57299999999999" y2="352" stroke="#9a9a9a" stroke-width="0.7"/>
<line x1="57.967" y1="316" x2="57.967" y2="341" stroke="#9a9a9a" stroke-width="0.7"/>
<line x1="56.967" y1="316" x2="58.967" y2="316" stroke="#9a9a9a" stroke-width="0.7"/>
<line x1="56.967" y1="341" x2="58.967" y2="341" stroke="#9a9a9a" stroke-width="0.7"/>
<line x1="61.361" y1="308" x2="61.361" y2="333" stroke="#9a9a9a" stroke-width="0.7"/>
<line x1="60.361" y1="308" x2="62.361" y2="308" stroke="#9a9a9a" stroke-width="0.7"/>
<line x1="60.361" y1="333" x2="62.361" y2="333" stroke="#9a9a9a" stroke-width="0.7"/>
<line x1="64.755" y1="298" x2="64.755" y2="323" stroke="#9a9a9a" stroke-width="0.7"/>
<line x1="63.754999999999995" y1="298" x2="65.755" y2="298" stroke="#9a9a9a" stroke-width="0.7"/>
<line x1="63.754999999999995" y1="323" x2="65.755" y2="323" stroke="#9a9a9a" stroke-width="0.7"/>
<line x1="115.665" y1="205" x2="115.665" y2="232.4" stroke="#9a9a9a" stroke-width="0.7"/>
<line x1="114.665" y1="205" x2="116.665" y2="205" stroke="#9a9a9a" stroke-width="0.7"/>
<line x1="114.665" y1="232.4" x2="116.665" y2="232.4" stroke="#9a9a9a" stroke-width="0.7"/>
<line x1="90.21000000000001" y1="211" x2="90.21000000000001" y2="228.2" stroke="#9a9a9a" stroke-width="0.7"/>
<line x1="89.21000000000001" y1="211" x2="91.21000000000001" y2="211" stroke="#9a9a9a" stroke-width="0.7"/>
<line x1="89.21000000000001" y1="228.2" x2="91.21000000000001" y2="228.2" stroke="#9a9a9a" stroke-width="0.7"/>
<line x1="90.21000000000001" y1="238.5" x2="90.21000000000001" y2="265.9" stroke="#9a9a9a" stroke-width="0.7"/>
<line x1="89.21000000000001" y1="238.5" x2="91.21000000000001" y2="238.5" stroke="#9a9a9a" stroke-width="0.7"/>
<line x1="89.21000000000001" y1="265.9" x2="91.21000000000001" y2="265.9" stroke="#9a9a9a" stroke-width="0.7"/>
<line x1="73.24" y1="260.8" x2="73.24" y2="287" stroke="#9a9a9a" stroke-width="0.7"/>
<line x1="72.24" y1="260.8" x2="74.24" y2="260.8" stroke="#9a9a9a" stroke-width="0.7"/>
<line x1="72.24" y1="287" x2="74.24" y2="287" stroke="#9a9a9a" stroke-width="0.7"/>
<polyline points="40.997,353.2 44.391,353.2 47.785,353.2 51.179,353.2 54.57299999999999,353.2 57.967,353.2 61.361,353.2 64.755,353.2 73.24,353.2 90.21000000000001,353.2 115.665,353.2" fill="none" stroke="#46aac5" stroke-width="2.2" stroke-linejoin="round"/>
<polyline points="41.897,353 45.291,351 48.684999999999995,344 52.079,335.3 55.47299999999999,331 58.867,325 62.260999999999996,318 65.655,310 74.14,273.6 91.11000000000001,218.4" fill="none" stroke="#4a7ebb" stroke-width="1.4" stroke-linejoin="round"/>
<polyline points="40.997,353 44.391,352.5 47.785,351 51.179,348.5 54.57299999999999,331 57.967,324 61.361,317.6 64.755,309 73.24,273.6 90.21000000000001,218.4" fill="none" stroke="#98b954" stroke-width="1.4" stroke-linejoin="round"/>
<polyline points="40.997,353 44.391,352 47.785,348 51.179,342 54.57299999999999,335 57.967,330 61.361,322 64.755,313 73.24,280 90.21000000000001,246.2 115.665,220.4" fill="none" stroke="#7d60a0" stroke-width="1.4" stroke-linejoin="round"/>
<polyline points="40.997,352 44.391,351 47.785,346 51.179,341 54.57299999999999,339 57.967,328 61.361,320 64.755,310 73.24,273 90.21000000000001,252.2 115.665,217.9" fill="none" stroke="#be4b48" stroke-width="1.5" stroke-linejoin="round"/>
<rect x="39.797" y="350.8" width="2.4" height="2.4" fill="#be4b48"/>
<rect x="43.190999999999995" y="349.8" width="2.4" height="2.4" fill="#be4b48"/>
<rect x="46.584999999999994" y="344.8" width="2.4" height="2.4" fill="#be4b48"/>
<rect x="49.979" y="339.8" width="2.4" height="2.4" fill="#be4b48"/>
<rect x="53.37299999999999" y="337.8" width="2.4" height="2.4" fill="#be4b48"/>
<rect x="56.766999999999996" y="326.8" width="2.4" height="2.4" fill="#be4b48"/>
<rect x="60.160999999999994" y="318.8" width="2.4" height="2.4" fill="#be4b48"/>
<rect x="63.55499999999999" y="308.8" width="2.4" height="2.4" fill="#be4b48"/>
<rect x="72.03999999999999" y="271.8" width="2.4" height="2.4" fill="#be4b48"/>
<rect x="89.01" y="251.0" width="2.4" height="2.4" fill="#be4b48"/>
<rect x="114.465" y="216.70000000000002" width="2.4" height="2.4" fill="#be4b48"/>
<rect x="40.397" y="351.4" width="1.2" height="3.6" fill="#46aac5"/>
<rect x="43.791" y="351.4" width="1.2" height="3.6" fill="#46aac5"/>
<rect x="47.184999999999995" y="351.4" width="1.2" height="3.6" fill="#46aac5"/>
<rect x="50.579" y="351.4" width="1.2" height="3.6" fill="#46aac5"/>
<rect x="53.97299999999999" y="351.4" width="1.2" height="3.6" fill="#46aac5"/>
<rect x="57.367" y="351.4" width="1.2" height="3.6" fill="#46aac5"/>
<rect x="60.760999999999996" y="351.4" width="1.2" height="3.6" fill="#46aac5"/>
<rect x="64.155" y="351.4" width="1.2" height="3.6" fill="#46aac5"/>
<rect x="72.64" y="351.4" width="1.2" height="3.6" fill="#46aac5"/>
<rect x="89.61000000000001" y="351.4" width="1.2" height="3.6" fill="#46aac5"/>
<rect x="115.06500000000001" y="351.4" width="1.2" height="3.6" fill="#46aac5"/>
<line x1="164" y1="215" x2="170" y2="215" stroke="#4a7ebb" stroke-width="1.2"/>
<rect x="165.8" y="213.8" width="2.4" height="2.4" fill="#4a7ebb"/>
<text x="171.7" y="215.5" font-size="7.7" font-weight="bold" fill="#1e1e1e" text-anchor="start" dominant-baseline="central" textLength="66" lengthAdjust="spacingAndGlyphs" stroke="#1e1e1e" stroke-width="0.1">&lt;50nm sized Phenytoin</text>
<text x="171.7" y="226.1" font-size="7.7" font-weight="bold" fill="#1e1e1e" text-anchor="start" dominant-baseline="central" textLength="54.2" lengthAdjust="spacingAndGlyphs" stroke="#1e1e1e" stroke-width="0.1">sodium loaded NLC</text>
<line x1="164" y1="245.4" x2="170" y2="245.4" stroke="#be4b48" stroke-width="1.2"/>
<rect x="165.8" y="244.20000000000002" width="2.4" height="2.4" fill="#be4b48"/>
<text x="172.6" y="245.0" font-size="7.7" font-weight="bold" fill="#1e1e1e" text-anchor="start" dominant-baseline="central" textLength="75.5" lengthAdjust="spacingAndGlyphs" stroke="#1e1e1e" stroke-width="0.1">50-100nm sized Phenytoin</text>
<text x="172.6" y="255.89999999999998" font-size="7.7" font-weight="bold" fill="#1e1e1e" text-anchor="start" dominant-baseline="central" textLength="54.2" lengthAdjust="spacingAndGlyphs" stroke="#1e1e1e" stroke-width="0.1">sodium loaded NLC</text>
<line x1="164" y1="277.7" x2="170" y2="277.7" stroke="#98b954" stroke-width="1.2"/>
<polygon points="165.5,276.7 168.5,276.7 167,279.2" fill="#98b954"/>
<text x="172.6" y="277.7" font-size="7.7" font-weight="bold" fill="#1e1e1e" text-anchor="start" dominant-baseline="central" textLength="69.7" lengthAdjust="spacingAndGlyphs" stroke="#1e1e1e" stroke-width="0.1">&gt;100nm sized Phenytoin</text>
<text x="172.6" y="288.2" font-size="7.7" font-weight="bold" fill="#1e1e1e" text-anchor="start" dominant-baseline="central" textLength="54.2" lengthAdjust="spacingAndGlyphs" stroke="#1e1e1e" stroke-width="0.1">sodium loaded NLC</text>
<line x1="164" y1="308.3" x2="170" y2="308.3" stroke="#7d60a0" stroke-width="1.2"/>
<text x="173.2" y="308.2" font-size="7.7" font-weight="bold" fill="#1e1e1e" text-anchor="start" dominant-baseline="central" textLength="77.3" lengthAdjust="spacingAndGlyphs" stroke="#1e1e1e" stroke-width="0.1">Intranasal midazolam spray</text>
<text x="173.2" y="318.2" font-size="7.7" font-weight="bold" fill="#1e1e1e" text-anchor="start" dominant-baseline="central" textLength="62.7" lengthAdjust="spacingAndGlyphs" stroke="#1e1e1e" stroke-width="0.1">marketed formulation</text>
<line x1="164" y1="338.8" x2="170" y2="338.8" stroke="#46aac5" stroke-width="1.2"/>
<rect x="166.5" y="337.3" width="1" height="3" fill="#46aac5"/>
<text x="174.3" y="342.4" font-size="7.7" font-weight="bold" fill="#1e1e1e" text-anchor="start" dominant-baseline="central" textLength="76.7" lengthAdjust="spacingAndGlyphs" stroke="#1e1e1e" stroke-width="0.1">Positive control (Phenytoin</text>
<text x="174.3" y="353.1" font-size="7.7" font-weight="bold" fill="#1e1e1e" text-anchor="start" dominant-baseline="central" textLength="69.9" lengthAdjust="spacingAndGlyphs" stroke="#1e1e1e" stroke-width="0.1">sodium in pH 6.6 buffer)</text>
<text x="271.2" y="222.5" font-size="24.5" font-weight="bold" fill="#000" text-anchor="start" textLength="13.6" lengthAdjust="spacingAndGlyphs" stroke="#000" stroke-width="1">D</text>
<line x1="293.5" y1="229" x2="293.5" y2="339.5" stroke="#d0d0d0" stroke-width="1"/>
<line x1="293.5" y1="339.5" x2="529" y2="339.5" stroke="#d0d0d0" stroke-width="1"/>
<line x1="291.5" y1="339.5" x2="293.5" y2="339.5" stroke="#d0d0d0" stroke-width="1"/>
<text x="288.9" y="339.5" font-size="9.3" font-weight="bold" fill="#2a2a2a" text-anchor="end" dominant-baseline="central" textLength="3.2" lengthAdjust="spacingAndGlyphs" stroke="#2a2a2a" stroke-width="0.2">0</text>
<line x1="291.5" y1="315.3" x2="293.5" y2="315.3" stroke="#d0d0d0" stroke-width="1"/>
<text x="288.9" y="315.3" font-size="9.3" font-weight="bold" fill="#2a2a2a" text-anchor="end" dominant-baseline="central" textLength="6.3" lengthAdjust="spacingAndGlyphs" stroke="#2a2a2a" stroke-width="0.2">50</text>
<line x1="291.5" y1="291.1" x2="293.5" y2="291.1" stroke="#d0d0d0" stroke-width="1"/>
<text x="288.9" y="291.1" font-size="9.3" font-weight="bold" fill="#2a2a2a" text-anchor="end" dominant-baseline="central" textLength="9.4" lengthAdjust="spacingAndGlyphs" stroke="#2a2a2a" stroke-width="0.2">100</text>
<line x1="291.5" y1="266.9" x2="293.5" y2="266.9" stroke="#d0d0d0" stroke-width="1"/>
<text x="288.9" y="266.9" font-size="9.3" font-weight="bold" fill="#2a2a2a" text-anchor="end" dominant-baseline="central" textLength="9.4" lengthAdjust="spacingAndGlyphs" stroke="#2a2a2a" stroke-width="0.2">150</text>
<line x1="291.5" y1="242.7" x2="293.5" y2="242.7" stroke="#d0d0d0" stroke-width="1"/>
<text x="288.9" y="242.7" font-size="9.3" font-weight="bold" fill="#2a2a2a" text-anchor="end" dominant-baseline="central" textLength="9.4" lengthAdjust="spacingAndGlyphs" stroke="#2a2a2a" stroke-width="0.2">200</text>
<line x1="294" y1="339.5" x2="294" y2="342" stroke="#d0d0d0" stroke-width="1"/>
<line x1="341" y1="339.5" x2="341" y2="342" stroke="#d0d0d0" stroke-width="1"/>
<line x1="388" y1="339.5" x2="388" y2="342" stroke="#d0d0d0" stroke-width="1"/>
<line x1="435" y1="339.5" x2="435" y2="342" stroke="#d0d0d0" stroke-width="1"/>
<line x1="482" y1="339.5" x2="482" y2="342" stroke="#d0d0d0" stroke-width="1"/>
<line x1="529" y1="339.5" x2="529" y2="342" stroke="#d0d0d0" stroke-width="1"/>
<text transform="translate(270.8,295.5) rotate(-90)" x="0" y="0" font-size="7" font-weight="bold" fill="#111" text-anchor="middle" dominant-baseline="central" textLength="135" lengthAdjust="spacingAndGlyphs" >Steady state flux  (µg/cm²/hr)</text>
<rect x="304" y="245.846" width="13.5" height="93.654" fill="#4f81bd"/>
<rect x="317.5" y="297.876" width="13.5" height="41.624000000000024" fill="#c0504d"/>
<rect x="351" y="292.552" width="13.5" height="46.94799999999998" fill="#4f81bd"/>
<rect x="364.5" y="307.2172" width="13.5" height="32.28280000000001" fill="#c0504d"/>
<rect x="398" y="303.442" width="13.5" height="36.05799999999999" fill="#4f81bd"/>
<rect x="411.5" y="307.2172" width="13.5" height="32.28280000000001" fill="#c0504d"/>
<rect x="458.5" y="307.2172" width="13.5" height="32.28280000000001" fill="#c0504d"/>
<line x1="310.75" y1="243.846" x2="310.75" y2="247.846" stroke="#444" stroke-width="0.7"/>
<line x1="309.75" y1="243.846" x2="311.75" y2="243.846" stroke="#444" stroke-width="0.7"/>
<line x1="309.75" y1="247.846" x2="311.75" y2="247.846" stroke="#444" stroke-width="0.7"/>
<line x1="324.25" y1="295.876" x2="324.25" y2="299.876" stroke="#444" stroke-width="0.7"/>
<line x1="323.25" y1="295.876" x2="325.25" y2="295.876" stroke="#444" stroke-width="0.7"/>
<line x1="323.25" y1="299.876" x2="325.25" y2="299.876" stroke="#444" stroke-width="0.7"/>
<line x1="357.75" y1="290.552" x2="357.75" y2="294.552" stroke="#444" stroke-width="0.7"/>
<line x1="356.75" y1="290.552" x2="358.75" y2="290.552" stroke="#444" stroke-width="0.7"/>
<line x1="356.75" y1="294.552" x2="358.75" y2="294.552" stroke="#444" stroke-width="0.7"/>
<line x1="371.25" y1="305.2172" x2="371.25" y2="309.2172" stroke="#444" stroke-width="0.7"/>
<line x1="370.25" y1="305.2172" x2="372.25" y2="305.2172" stroke="#444" stroke-width="0.7"/>
<line x1="370.25" y1="309.2172" x2="372.25" y2="309.2172" stroke="#444" stroke-width="0.7"/>
<line x1="404.75" y1="301.442" x2="404.75" y2="305.442" stroke="#444" stroke-width="0.7"/>
<line x1="403.75" y1="301.442" x2="405.75" y2="301.442" stroke="#444" stroke-width="0.7"/>
<line x1="403.75" y1="305.442" x2="405.75" y2="305.442" stroke="#444" stroke-width="0.7"/>
<line x1="418.25" y1="305.2172" x2="418.25" y2="309.2172" stroke="#444" stroke-width="0.7"/>
<line x1="417.25" y1="305.2172" x2="419.25" y2="305.2172" stroke="#444" stroke-width="0.7"/>
<line x1="417.25" y1="309.2172" x2="419.25" y2="309.2172" stroke="#444" stroke-width="0.7"/>
<line x1="465.25" y1="305.2172" x2="465.25" y2="309.2172" stroke="#444" stroke-width="0.7"/>
<line x1="464.25" y1="305.2172" x2="466.25" y2="305.2172" stroke="#444" stroke-width="0.7"/>
<line x1="464.25" y1="309.2172" x2="466.25" y2="309.2172" stroke="#444" stroke-width="0.7"/>
<line x1="311" y1="235.1" x2="498.9" y2="235.1" stroke="#9a9a9a" stroke-width="0.9"/>
<line x1="311" y1="235.1" x2="311" y2="246.6" stroke="#9a9a9a" stroke-width="0.9"/>
<line x1="358.3" y1="235.1" x2="358.3" y2="292.5" stroke="#9a9a9a" stroke-width="0.9"/>
<line x1="405.3" y1="235.1" x2="405.3" y2="303.5" stroke="#9a9a9a" stroke-width="0.9"/>
<line x1="451.9" y1="235.1" x2="451.9" y2="339.5" stroke="#9a9a9a" stroke-width="0.9"/>
<line x1="498.9" y1="235.1" x2="498.9" y2="339.5" stroke="#9a9a9a" stroke-width="0.9"/>
<line x1="512" y1="336" x2="512" y2="342" stroke="#9a9a9a" stroke-width="0.8"/>
<ellipse cx="327.30" cy="229.2" rx="1.3" ry="1.85" fill="#1a1a1a"/>
<ellipse cx="374.20" cy="227.2" rx="1.3" ry="1.85" fill="#1a1a1a"/>
<ellipse cx="377.50" cy="227.2" rx="1.3" ry="1.85" fill="#1a1a1a"/>
<ellipse cx="380.80" cy="227.2" rx="1.3" ry="1.85" fill="#1a1a1a"/>
<ellipse cx="423.10" cy="227.5" rx="1.3" ry="1.85" fill="#1a1a1a"/>
<ellipse cx="426.40" cy="227.5" rx="1.3" ry="1.85" fill="#1a1a1a"/>
<ellipse cx="429.70" cy="227.5" rx="1.3" ry="1.85" fill="#1a1a1a"/>
<ellipse cx="465.70" cy="228.0" rx="1.3" ry="1.85" fill="#1a1a1a"/>
<ellipse cx="469.00" cy="228.0" rx="1.3" ry="1.85" fill="#1a1a1a"/>
<ellipse cx="472.30" cy="228.0" rx="1.3" ry="1.85" fill="#1a1a1a"/>
<rect x="484.9" y="207.1" width="3.9" height="4.8" fill="#4f81bd"/>
<rect x="484.9" y="219.9" width="3.9" height="5.1" fill="#c0504d"/>
<text x="490.6" y="208.8" font-size="9" font-weight="bold" fill="#1e1e1e" text-anchor="start" dominant-baseline="central" textLength="47.2" lengthAdjust="spacingAndGlyphs" stroke="#1e1e1e" stroke-width="0.25">Olfactory mucosa</text>
<text x="490.6" y="222.4" font-size="9" font-weight="bold" fill="#1e1e1e" text-anchor="start" dominant-baseline="central" textLength="50.6" lengthAdjust="spacingAndGlyphs" stroke="#1e1e1e" stroke-width="0.25">Trigeminal mucosa</text>
<text x="315.7" y="356" font-size="8.3" font-weight="bold" fill="#2a2a2a" text-anchor="middle" dominant-baseline="central" textLength="34.6" lengthAdjust="spacingAndGlyphs" stroke="#2a2a2a" stroke-width="0.2">&lt; 50 nm sized</text>
<text x="317.3" y="367.6" font-size="8.3" font-weight="bold" fill="#2a2a2a" text-anchor="middle" dominant-baseline="central" textLength="43.4" lengthAdjust="spacingAndGlyphs" stroke="#2a2a2a" stroke-width="0.2">Phenytoin sodium</text>
<text x="317.5" y="379" font-size="8.3" font-weight="bold" fill="#2a2a2a" text-anchor="middle" dominant-baseline="central" textLength="27" lengthAdjust="spacingAndGlyphs" stroke="#2a2a2a" stroke-width="0.2">loaded NLC</text>
<text x="367.8" y="356" font-size="8.3" font-weight="bold" fill="#2a2a2a" text-anchor="middle" dominant-baseline="central" textLength="28.4" lengthAdjust="spacingAndGlyphs" stroke="#2a2a2a" stroke-width="0.2">50 – 100 nm</text>
<text x="362" y="367.6" font-size="8.3" font-weight="bold" fill="#2a2a2a" text-anchor="middle" dominant-baseline="central" textLength="12" lengthAdjust="spacingAndGlyphs" stroke="#2a2a2a" stroke-width="0.2">sized</text>
<text x="364.4" y="379" font-size="8.3" font-weight="bold" fill="#2a2a2a" text-anchor="middle" dominant-baseline="central" textLength="44" lengthAdjust="spacingAndGlyphs" stroke="#2a2a2a" stroke-width="0.2">phenytoin sodium</text>
<text x="364.5" y="391" font-size="8.3" font-weight="bold" fill="#2a2a2a" text-anchor="middle" dominant-baseline="central" textLength="27" lengthAdjust="spacingAndGlyphs" stroke="#2a2a2a" stroke-width="0.2">loaded NLC</text>
<text x="411.3" y="356" font-size="8.3" font-weight="bold" fill="#2a2a2a" text-anchor="middle" dominant-baseline="central" textLength="24.6" lengthAdjust="spacingAndGlyphs" stroke="#2a2a2a" stroke-width="0.2">&gt; 100 nm</text>
<text x="411.7" y="367.6" font-size="8.3" font-weight="bold" fill="#2a2a2a" text-anchor="middle" dominant-baseline="central" textLength="38.6" lengthAdjust="spacingAndGlyphs" stroke="#2a2a2a" stroke-width="0.2">sized phenytoin</text>
<text x="411.4" y="379" font-size="8.3" font-weight="bold" fill="#2a2a2a" text-anchor="middle" dominant-baseline="central" textLength="46" lengthAdjust="spacingAndGlyphs" stroke="#2a2a2a" stroke-width="0.2">sodium loaded NLC</text>
<text x="459" y="356" font-size="8.3" font-weight="bold" fill="#2a2a2a" text-anchor="middle" dominant-baseline="central" textLength="24" lengthAdjust="spacingAndGlyphs" stroke="#2a2a2a" stroke-width="0.2">Intranasal</text>
<text x="458.5" y="367.6" font-size="8.3" font-weight="bold" fill="#2a2a2a" text-anchor="middle" dominant-baseline="central" textLength="41" lengthAdjust="spacingAndGlyphs" stroke="#2a2a2a" stroke-width="0.2">midazolam nasal</text>
<text x="459" y="379" font-size="8.3" font-weight="bold" fill="#2a2a2a" text-anchor="middle" dominant-baseline="central" textLength="12" lengthAdjust="spacingAndGlyphs" stroke="#2a2a2a" stroke-width="0.2">spray</text>
<text x="505.2" y="356" font-size="8.3" font-weight="bold" fill="#2a2a2a" text-anchor="middle" dominant-baseline="central" textLength="37.6" lengthAdjust="spacingAndGlyphs" stroke="#2a2a2a" stroke-width="0.2">Positive control</text>
<text x="505.3" y="367.6" font-size="8.3" font-weight="bold" fill="#2a2a2a" text-anchor="middle" dominant-baseline="central" textLength="39.4" lengthAdjust="spacingAndGlyphs" stroke="#2a2a2a" stroke-width="0.2">(Drug phenytoin</text>
<text x="505.8" y="379" font-size="8.3" font-weight="bold" fill="#2a2a2a" text-anchor="middle" dominant-baseline="central" textLength="40.4" lengthAdjust="spacingAndGlyphs" stroke="#2a2a2a" stroke-width="0.2">sodium in pH 6.6</text>
<text x="505.5" y="391" font-size="8.3" font-weight="bold" fill="#2a2a2a" text-anchor="middle" dominant-baseline="central" textLength="17" lengthAdjust="spacingAndGlyphs" stroke="#2a2a2a" stroke-width="0.2">buffer)</text>
</svg></body></html>
